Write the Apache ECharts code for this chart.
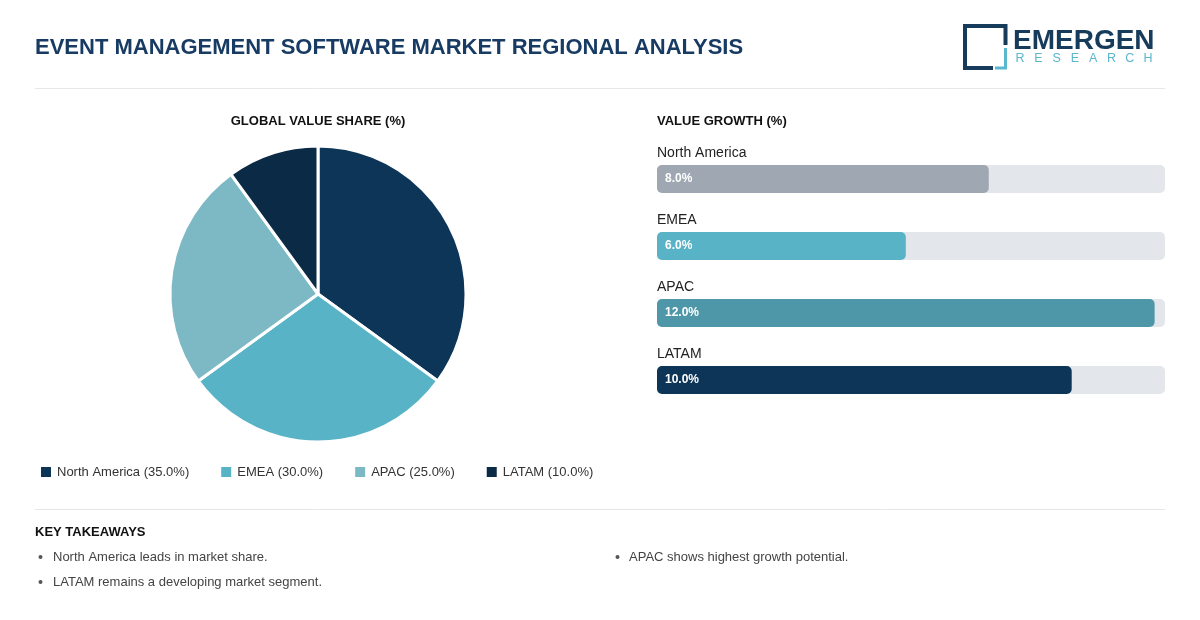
<!DOCTYPE html>
<html>
<head>
<meta charset="utf-8">
<script src="https://cdn.jsdelivr.net/npm/echarts@6/dist/echarts.min.js"></script>
<style>
html,body{margin:0;padding:0;background:#fff;}
#main{width:1200px;height:620px;}
</style>
</head>
<body>
<div id="main"></div>
<script>
const regions = ['North America', 'EMEA', 'APAC', 'LATAM'];
const shareValues = [35.0, 30.0, 25.0, 10.0];
const growthValues = [8.0, 6.0, 12.0, 10.0];
const pieColors = ['#0c3557', '#58b3c6', '#7db8c5', '#0b2a45'];
const barColors = ['#9ea7b2', '#58b3c6', '#4e97a8', '#0c3557'];
const takeawaysLeft = ['North America leads in market share.', 'LATAM remains a developing market segment.'];
const takeawaysRight = ['APAC shows highest growth potential.'];
const titleText = 'EVENT MANAGEMENT SOFTWARE MARKET REGIONAL ANALYSIS';
const logoWord = 'EMERGEN';
const logoSub = 'RESEARCH';

const FONT = '"Liberation Sans", Arial, Helvetica, sans-serif';
const chart = echarts.init(document.getElementById('main'), null, {renderer: 'canvas'});

const graphics = [
  {type:'text', x:35, y:48, style:{text:titleText, font:'bold 22px ' + FONT, fill:'#173b62', align:'left', verticalAlign:'middle'}},
  {type:'line', shape:{x1:35, y1:88.5, x2:1165, y2:88.5}, style:{stroke:'#e5e7ea', lineWidth:1}},
  {type:'line', shape:{x1:35, y1:509.5, x2:1165, y2:509.5}, style:{stroke:'#e5e7ea', lineWidth:1}},
  {type:'text', x:318, y:121, style:{text:'GLOBAL VALUE SHARE (%)', font:'bold 13px ' + FONT, fill:'#111', align:'center', verticalAlign:'middle'}},
  {type:'text', x:657, y:121, style:{text:'VALUE GROWTH (%)', font:'bold 13px ' + FONT, fill:'#111', align:'left', verticalAlign:'middle'}},
  {type:'text', x:35, y:532, style:{text:'KEY TAKEAWAYS', font:'bold 13px ' + FONT, fill:'#111', align:'left', verticalAlign:'middle'}},
  // logo
  {type:'polyline', shape:{points:[[1005.5,45],[1005.5,26],[965,26],[965,68],[993,68]]}, style:{stroke:'#173b5a', lineWidth:4, fill:null, lineJoin:'miter'}},
  {type:'polyline', shape:{points:[[1005.5,48],[1005.5,68],[995,68]]}, style:{stroke:'#5bb6cf', lineWidth:3, fill:null, lineJoin:'miter'}},
  {type:'text', x:1013, y:41, style:{text:logoWord, font:'bold 28px ' + FONT, fill:'#173b5a', align:'left', verticalAlign:'middle'}}
];
logoSub.split('').forEach((ch, i) => {
  graphics.push({type:'text', x:1020 + i * 18.3, y:59, style:{text:ch, font:'12.5px ' + FONT, fill:'#5bb6cf', align:'center', verticalAlign:'middle'}});
});
takeawaysLeft.forEach((t, i) => {
  graphics.push({type:'circle', shape:{cx:40.5, cy:557 + i * 25, r:2}, style:{fill:'#555'}});
  graphics.push({type:'text', x:53, y:557 + i * 25, style:{text:t, font:'13px ' + FONT, fill:'#444', align:'left', verticalAlign:'middle'}});
});
takeawaysRight.forEach((t, i) => {
  graphics.push({type:'circle', shape:{cx:617.5, cy:557 + i * 25, r:2}, style:{fill:'#555'}});
  graphics.push({type:'text', x:629, y:557 + i * 25, style:{text:t, font:'13px ' + FONT, fill:'#444', align:'left', verticalAlign:'middle'}});
});

const option = {
  animation: false,
  textStyle: {fontFamily: FONT},
  graphic: graphics,
  legend: {
    left: 34, top: 460,
    itemWidth: 12, itemHeight: 12, itemGap: 30,
    icon: 'rect',
    selectedMode: false,
    textStyle: {fontSize: 13, color: '#333', fontFamily: FONT},
    formatter: name => name + ' (' + shareValues[regions.indexOf(name)].toFixed(1) + '%)',
    data: regions
  },
  grid: {left: 657, width: 508, top: 145.5, height: 268},
  xAxis: {type: 'value', min: 0, max: 12.25, show: false},
  yAxis: {
    type: 'category', inverse: true, data: regions,
    axisLine: {show: false}, axisTick: {show: false}, splitLine: {show: false},
    axisLabel: {inside: true, margin: 0, verticalAlign: 'bottom', padding: [0, 0, 19, 0], fontSize: 14, color: '#222', fontFamily: FONT}
  },
  series: [
    {
      type: 'pie',
      center: [318, 294], radius: 148,
      startAngle: 90, clockwise: true,
      label: {show: false}, labelLine: {show: false},
      emphasis: {disabled: true},
      itemStyle: {borderColor: '#fff', borderWidth: 3},
      data: regions.map((r, i) => ({name: r, value: shareValues[i], itemStyle: {color: pieColors[i]}}))
    },
    {
      type: 'bar',
      barWidth: 28,
      showBackground: true,
      backgroundStyle: {color: '#e3e6ea', borderRadius: 5},
      emphasis: {disabled: true},
      label: {show: true, position: 'insideLeft', distance: 8, color: '#fff', fontWeight: 'bold', fontSize: 12, fontFamily: FONT,
        formatter: p => p.value.toFixed(1) + '%'},
      data: growthValues.map((v, i) => ({value: v, itemStyle: {color: barColors[i], borderRadius: 5}}))
    }
  ]
};
chart.setOption(option);
</script>
</body>
</html>
